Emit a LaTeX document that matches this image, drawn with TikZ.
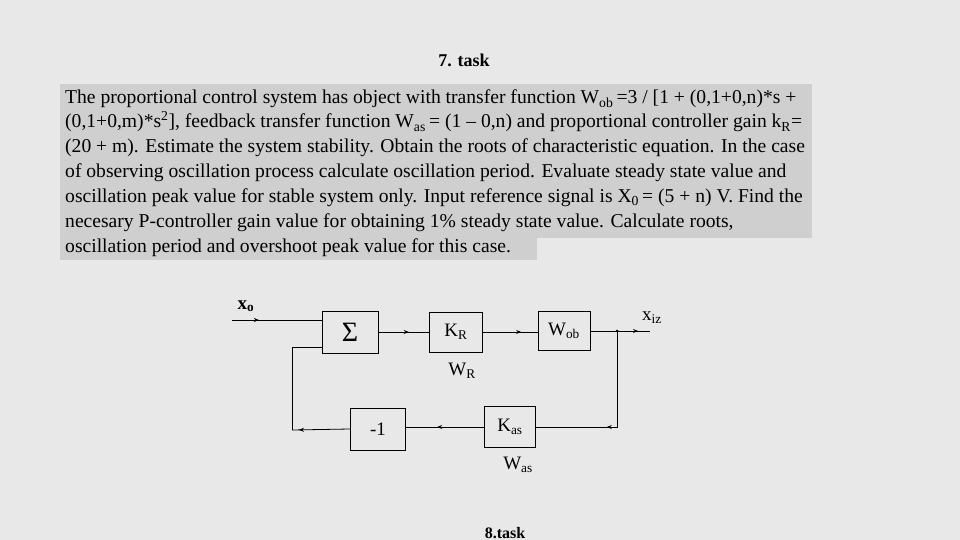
\documentclass[tikz,border=0pt]{standalone}
\usepackage{fontspec}
\setmainfont{Liberation Serif}
\usetikzlibrary{decorations.markings,arrows.meta}
\begin{document}
\begin{tikzpicture}[x=1pt,y=-1pt,
 blk/.style={draw,line width=0.9pt,inner sep=0pt,font=\fontsize{19}{19}\selectfont},
 ln/.style={line width=0.8pt},
 mid/.style={ln,postaction={decorate},decoration={markings,mark=at position #1 with {\arrow{Stealth[length=5pt,width=4pt]}}}},
 txt/.style={anchor=base west,inner sep=0pt,font=\fontsize{19.6}{19}\selectfont}]
\useasboundingbox (0,0) rectangle (960,540);
\fill[gray!18] (0,0) rectangle (960,540);
\fill[gray!38] (60,84) rectangle (812,238);
\fill[gray!38] (60,238) rectangle (537,260);
\node[anchor=base,font=\bfseries\fontsize{18}{18}\selectfont] (title) at (464,67) {7. task};
\node[txt] (l1) at (65,104) {The proportional control system has object with transfer function W\textsubscript{ob}\,=3 / [1 + (0,1+0,n)*s +};
\node[txt] (l2) at (65,128) {(0,1+0,m)*s\textsuperscript{2}], feedback transfer function W\textsubscript{as}\,= (1 -- 0,n) and proportional controller gain k\textsubscript{R}=};
\node[txt] (l3) at (65,153) {(20 + m). Estimate the system stability. Obtain the roots of characteristic equation. In the case};
\node[txt] (l4) at (65,178) {of observing oscillation process calculate oscillation period. Evaluate steady state value and};
\node[txt] (l5) at (65,202) {oscillation peak value for stable system only. Input reference signal is X\textsubscript{0}\,= (5 + n) V. Find the};
\node[txt] (l6) at (65,227) {necesary P-controller gain value for obtaining 1\% steady state value. Calculate roots,};
\node[txt] (l7) at (65,252) {oscillation period and overshoot peak value for this case.};
% blocks
\node[blk,minimum width=56pt,minimum height=42pt] (sum) at (350,332) {\fontsize{28}{28}\selectfont Σ};
\node[blk,minimum width=53pt,minimum height=40pt] (kr) at (456,332) {K\textsubscript{R}};
\node[blk,minimum width=52pt,minimum height=39pt] (wob) at (564,331) {W\textsubscript{ob}};
\node[blk,minimum width=55pt,minimum height=42pt] (neg) at (378,429) {-1};
\node[blk,minimum width=51pt,minimum height=41pt] (kas) at (510,427) {K\textsubscript{as}};
\node[font=\fontsize{19}{19}\selectfont] (wr) at (462,371) {W\textsubscript{R}};
\node[font=\fontsize{19}{19}\selectfont] (was) at (518,465) {W\textsubscript{as}};
\node[font=\bfseries\fontsize{19}{19}\selectfont] (xo) at (246,306) {x\textsubscript{o}};
\node[font=\fontsize{19}{19}\selectfont] (xiz) at (652,318) {x\textsubscript{iz}};
\coordinate (in) at (232,320);
\coordinate (j) at (617,331);
\coordinate (out) at (650,331);
\coordinate (bl) at (292,430);
\draw[mid=0.3] (in) -- (sum.west |- in);
\draw[mid=0.6] (sum.east |- kr) -- (kr.west);
\draw[mid=0.7] (kr.east) -- (wob.west |- kr.east);
\draw[mid=0.8] (wob.east) -- (out);
\fill (j) circle (1.5pt);
\draw[mid=0.6] (j) |- (kas.east);
\draw[mid=0.6] (kas.west) -- (neg.east |- kas.west);
\draw[mid=0.88] (neg.west) -- (bl);
\draw[ln] (bl) |- (sum.west |- 0,347);
\node[anchor=base,font=\bfseries\fontsize{16}{16}\selectfont] (t8) at (505,538) {8.task};
\end{tikzpicture}
\end{document}
